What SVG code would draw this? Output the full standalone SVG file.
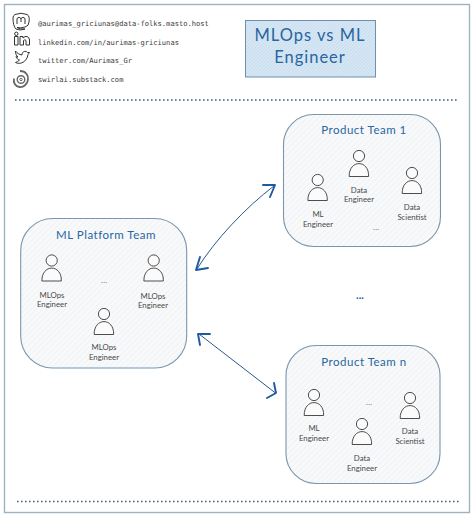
<svg xmlns="http://www.w3.org/2000/svg" width="474" height="517" viewBox="0 0 474 517">
<style>
.frame{fill:#fff;stroke:#9fb2c2;stroke-width:1.4}
.dots{fill:none;stroke:#3c5f80;stroke-width:1.6;stroke-dasharray:1.6 2.4}
.team{fill:url(#hatch);stroke:#7b96ad;stroke-width:1.1}
.title{fill:url(#hatchBlue);stroke:#6f8fae;stroke-width:1}
.h{font-family:"Lato","Liberation Sans",sans-serif;fill:#2a659f;text-anchor:middle}
.t{font-size:11.500px;letter-spacing:.5px}
.big{font-size:16.500px;letter-spacing:1px}
.l{font-family:"Lato","Liberation Sans",sans-serif;font-size:7.800px;fill:#4a4a4a;text-anchor:middle}
.e{font-family:"Liberation Sans",sans-serif;font-size:8px;fill:#444;text-anchor:middle}
.m{font-family:"DejaVu Sans Mono","Liberation Mono",monospace;font-size:7.100px;fill:#3a3a3a}
.p{fill:#fbfbfc;stroke:#3a3a3a;stroke-width:.9}
.i{fill:none;stroke:#333;stroke-width:1}
.a{fill:none;stroke:#2a5a8e;stroke-width:1}
.ah{fill:none;stroke:#1f5a9e;stroke-width:1.900;stroke-linecap:round;stroke-linejoin:round}
</style>
<defs>
<pattern id="hatch" width="4" height="4" patternUnits="userSpaceOnUse" patternTransform="rotate(-45)">
<rect width="4" height="4" fill="#f8f9fa"/><rect width="4" height=".8" fill="#eff1f4"/>
</pattern>
<pattern id="hatchBlue" width="2.400" height="2.400" patternUnits="userSpaceOnUse" patternTransform="rotate(-45)">
<rect width="2.400" height="2.400" fill="#d9e8f4"/><rect width="2.400" height=".9" fill="#c5dcee"/>
</pattern>
<g id="person">
<circle cx="0" cy="0" r="5.600" class="p"/>
<path d="M-9.800 20.500C-10 12-5 7.600 0 7.600S10 12 9.600 20.500Z" class="p"/>
</g>
</defs>
<rect x="4.500" y="4.500" width="465" height="508" class="frame"/>
<g id="contacts">
<g class="i">
<path d="M15 14.500Q21 12 27 14.500Q30 16 29 22Q29 26 25 27Q20 28.500 17 27.500Q20 29.500 25 29Q20 31 16 29Q13 26 13 18Q13 15.500 15 14.500Z"/>
<path d="M17 24V18.500Q19 16 21 18.500V22M21 18.500Q23 16 25 18.500V24"/>
<path d="M14.500 36.500H18V45H14.500ZM20 36.500H23V38Q25 36 27 36.500Q29.500 37.500 29.500 40V45H26V40.500Q25 39 23.500 40.500V45H20Z"/>
<circle cx="16.300" cy="33.800" r="1.700"/>
<path d="M15.500 62.500C20 65 27 62 28 54.500L29.500 52.500L27.500 52.500C26 50.500 22 51 22 55C19 54.500 17 53 15.500 51C15.500 54 16.500 56 18 57C17 57 16.500 57 16 56.500C16.500 58.500 18 59.500 19.500 60C18.500 61 17 62 15.500 62.500Z"/>
</g>
<g fill="none" stroke="#666">
<path d="M20 71C26 71 28.500 75.500 28 79.500C27.500 84.500 23.500 87.500 19.500 87C15.500 86.500 13 83 14 78.500" stroke-width="1.800"/>
<circle cx="21" cy="79.500" r="3.800" stroke-width="1.400"/>
<circle cx="21" cy="79.500" r="1.200" stroke-width="1"/>
</g>
<text x="38" y="25.500" class="m">@aurimas_griciunas@data-folks.masto.host</text>
<text x="38" y="44.500" class="m">linkedin.com/in/aurimas-griciunas</text>
<text x="38" y="63" class="m">twitter.com/Aurimas_Gr</text>
<text x="38" y="81.500" class="m">swirlai.substack.com</text>
</g>
<g id="title-box">
<rect x="245.500" y="20.500" width="130" height="56.500" class="title"/>
<text x="310" y="41" class="h big">MLOps vs ML</text>
<text x="310" y="63" class="h big">Engineer</text>
</g>
<path d="M15 100H457" class="dots"/>
<path d="M17 501.500H460" class="dots"/>
<g id="connectors">
<path d="M197 269C215 240 245 208 274.500 185.500" class="a"/>
<path d="M263 185L275 185L270 197" class="ah"/>
<path d="M208 268L196 270L200 257" class="ah"/>
<path d="M199 334L275.500 393" class="a"/>
<path d="M210 334L198 334L200 345" class="ah"/>
<path d="M274 383L276 393L267 398" class="ah"/>
</g>
<g id="platform-team">
<rect x="20.700" y="218.500" width="166" height="149.500" rx="32" class="team"/>
<text x="106" y="239" class="h t">ML Platform Team</text>
<use href="#person" x="51.700" y="260.500"/>
<use href="#person" x="153.700" y="260.500"/>
<use href="#person" x="104" y="314"/>
<text x="52" y="297.500" class="l">MLOps</text><text x="52" y="306.500" class="l">Engineer</text>
<text x="153" y="298.800" class="l">MLOps</text><text x="153" y="307.500" class="l">Engineer</text>
<text x="104" y="350" class="l">MLOps</text><text x="104" y="360" class="l">Engineer</text>
<text x="104" y="283" class="e">...</text>
</g>
<g id="product-team-1">
<rect x="283.500" y="114.500" width="157" height="132" rx="30" class="team"/>
<text x="364" y="134" class="h t">Product Team 1</text>
<use href="#person" x="317.700" y="180"/>
<use href="#person" x="359" y="156"/>
<use href="#person" x="412" y="173"/>
<text x="318" y="216.500" class="l">ML</text><text x="318" y="226.500" class="l">Engineer</text>
<text x="359" y="192.500" class="l">Data</text><text x="359" y="201.500" class="l">Engineer</text>
<text x="412" y="209.500" class="l">Data</text><text x="412" y="219.500" class="l">Scientist</text>
<text x="376" y="229.500" class="e">...</text>
</g>
<text id="teams-ellipsis" x="360" y="299" class="h" font-size="11" font-weight="700">...</text>
<g id="product-team-n">
<rect x="286" y="345.500" width="154" height="138" rx="30" class="team"/>
<text x="364" y="366" class="h t">Product Team n</text>
<use href="#person" x="314" y="395"/>
<use href="#person" x="362" y="424"/>
<use href="#person" x="410" y="398"/>
<text x="314" y="430.500" class="l">ML</text><text x="314" y="440.500" class="l">Engineer</text>
<text x="362" y="460.500" class="l">Data</text><text x="362" y="470.500" class="l">Engineer</text>
<text x="410" y="434" class="l">Data</text><text x="410" y="444" class="l">Scientist</text>
<text x="369" y="405" class="e">...</text>
</g>
</svg>
